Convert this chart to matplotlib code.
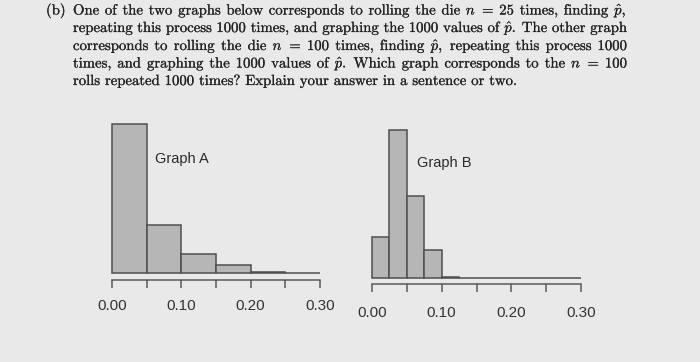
import re
import numpy as np
import matplotlib
matplotlib.use('Agg')
import matplotlib.pyplot as plt
import matplotlib.patheffects as pe

plt.rcParams['mathtext.fontset'] = 'cm'
plt.rcParams['axes.unicode_minus'] = False

# histogram counts (1000 values of p-hat each)
bin_width_a = 0.05
counts_a = [660, 213, 84, 36, 5, 2]

bin_width_b = 0.025
counts_b = [137, 493, 274, 93, 3, 0, 0, 0, 0, 0, 0, 0]

major_ticks = [0.0, 0.10, 0.20, 0.30]
minor_ticks = [0.05, 0.15, 0.25]
tick_labels = ['0.00', '0.10', '0.20', '0.30']

question_label = '(b)'
question_lines = [
    r'One of the two graphs below corresponds to rolling the die $n$ = 25 times, finding $\hat{p}$,',
    r'repeating this process 1000 times, and graphing the 1000 values of $\hat{p}$. The other graph',
    r'corresponds to rolling the die $n$ = 100 times, finding $\hat{p}$, repeating this process 1000',
    r'times, and graphing the 1000 values of $\hat{p}$. Which graph corresponds to the $n$ = 100',
    r'rolls repeated 1000 times? Explain your answer in a sentence or two.',
]

W, H = 700, 362
bg = '#e9e9e9'
bar_fill = '#b6b6b6'
bar_edge = '#4f4f4f'
axis_col = '#5a5a5a'
ink = '#222222'

fig = plt.figure(figsize=(W / 100, H / 100), dpi=100, facecolor=bg)


def px_axes(left, top, right, bottom):
    return fig.add_axes([left / W, 1 - bottom / H, (right - left) / W, (bottom - top) / H])


def draw_hist(ax, counts, width, ymax, title, tx, ty, offset, pad):
    lefts = np.arange(len(counts)) * width
    ax.bar(lefts, counts, width=width, align='edge', color=bar_fill,
           edgecolor=bar_edge, linewidth=1.1, clip_on=False)
    ax.set_xlim(0, 0.30)
    ax.set_ylim(0, ymax)
    ax.set_facecolor('none')
    for s in ['top', 'right', 'left']:
        ax.spines[s].set_visible(False)
    ax.spines['bottom'].set_position(('outward', offset))
    ax.spines['bottom'].set_bounds(0, 0.30)
    ax.spines['bottom'].set_color(axis_col)
    ax.spines['bottom'].set_linewidth(1.1)
    ax.set_yticks([])
    ax.set_xticks(major_ticks)
    ax.set_xticklabels(tick_labels)
    ax.set_xticks(minor_ticks, minor=True)
    ax.tick_params(axis='x', which='both', direction='out', length=5.8,
                   width=1.1, color=axis_col, labelsize=11, labelcolor='#333333', pad=pad)
    for lab in ax.get_xticklabels():
        lab.set_family('Liberation Sans')
    ax.text(tx, ty, title, fontsize=10.5, family='Liberation Sans', color='#2a2a2a', va='baseline')


ax_a = px_axes(112, 115, 320, 273)
draw_hist(ax_a, counts_a, bin_width_a, 700, 'Graph A', 0.062, 487, 5.0, 8)

ax_b = px_axes(372, 122, 581, 277.5)
draw_hist(ax_b, counts_b, bin_width_b, 520, 'Graph B', 0.064, 370, 4.7, 10)

# question text, justified between x0 and x1
x0, x1 = 73, 627
baselines = [14.5, 32, 50, 67.5, 85]
fsize = 10.6
fam = 'cmr10'
bold = [pe.withStroke(linewidth=0.15, foreground=ink)]


def put(x, y, s):
    return fig.text(x, y, s, fontsize=fsize, family=fam, color=ink, va='baseline',
                    path_effects=bold)


put(46 / W, 1 - baselines[0] / H, question_label)

renderer = fig.canvas.get_renderer()
for i, line in enumerate(question_lines):
    y = 1 - baselines[i] / H
    if i == len(question_lines) - 1:
        put(x0 / W, y, line)
        continue
    # words, keeping each $...$ group whole
    words = re.findall(r'(?:[^\s$]|\$[^$]*\$)+', line)
    texts = [put(0, y, w) for w in words]
    widths = [t.get_window_extent(renderer).width for t in texts]
    gap = (x1 - x0 - sum(widths)) / (len(words) - 1)
    x = x0
    for t, w in zip(texts, widths):
        t.set_x(x / W)
        x += w + gap

fig.savefig('out.png', dpi=100, facecolor=bg)
